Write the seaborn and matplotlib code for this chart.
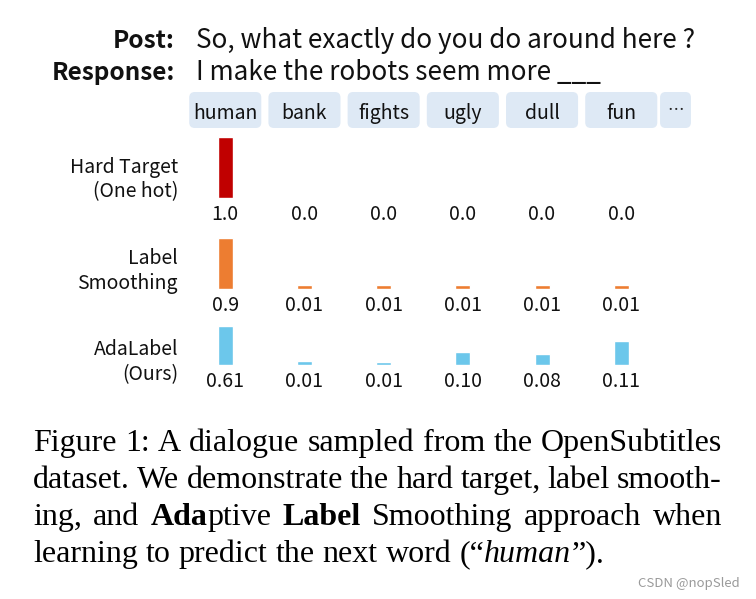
import numpy as np
import pandas as pd
import matplotlib
matplotlib.use("Agg")
import matplotlib.pyplot as plt
from matplotlib.patches import FancyBboxPatch
import seaborn as sns

# ---- data ----
tokens = ["human", "bank", "fights", "ugly", "dull", "fun"]
more_token = "…"

post_text = "So, what exactly do you do around here ?"
response_text = "I make the robots seem more ___"

row_names = [["Hard Target", "(One hot)"],
             ["Label", "Smoothing"],
             ["AdaLabel", "(Ours)"]]

hard_labels = ["1.0", "0.0", "0.0", "0.0", "0.0", "0.0"]
smooth_labels = ["0.9", "0.01", "0.01", "0.01", "0.01", "0.01"]
ada_labels = ["0.61", "0.01", "0.01", "0.10", "0.08", "0.11"]

# bar lengths as drawn in the figure (hard target bar = 1)
hard_heights = [1.0, 0.0, 0.0, 0.0, 0.0, 0.0]
smooth_heights = [0.84, 0.06, 0.06, 0.06, 0.06, 0.06]
ada_heights = [0.64, 0.066, 0.055, 0.21, 0.18, 0.39]

row_colors = ["#C00000", "#ED7D31", "#6CC7EB"]

caption_lines = [
    [[("Figure", "normal", "normal")], [("1:", "normal", "normal")], [("A", "normal", "normal")],
     [("dialogue", "normal", "normal")], [("sampled", "normal", "normal")], [("from", "normal", "normal")],
     [("the", "normal", "normal")], [("OpenSubtitles", "normal", "normal")]],
    [[("dataset.", "normal", "normal")], [("We", "normal", "normal")], [("demonstrate", "normal", "normal")],
     [("the", "normal", "normal")], [("hard", "normal", "normal")], [("target,", "normal", "normal")],
     [("label", "normal", "normal")], [("smooth-", "normal", "normal")]],
    [[("ing,", "normal", "normal")], [("and", "normal", "normal")],
     [("Ada", "bold", "normal"), ("ptive", "normal", "normal")], [("Label", "bold", "normal")],
     [("Smoothing", "normal", "normal")], [("approach", "normal", "normal")], [("when", "normal", "normal")]],
    [[("learning", "normal", "normal")], [("to", "normal", "normal")], [("predict", "normal", "normal")],
     [("the", "normal", "normal")], [("next", "normal", "normal")], [("word", "normal", "normal")],
     [("(“", "normal", "normal"), ("human", "normal", "italic"), ("”).", "normal", "normal")]],
]
watermark = "CSDN @nopSled"

# ---- layout ----
W, H = 756, 599
sans = ["Noto Sans CJK SC", "DejaVu Sans"]
serif = ["Liberation Serif", "DejaVu Serif"]

sns.set_theme(style="white")
plt.rcParams["font.family"] = sans

fig = plt.figure(figsize=(W / 100, H / 100), dpi=100)
fig.patch.set_facecolor("white")


def px_axes(left, baseline, width, height):
    return fig.add_axes([left / W, 1 - baseline / H, width / W, height / H])


def ftext(x, y, s, **kw):
    return fig.text(x / W, 1 - y / H, s, va="baseline", **kw)


unit = 61.0          # pixels for bar length 1
step = 79.2          # pixels between token columns
ax_left = 225.25 - step / 2
ax_width = step * 6
baselines = [198, 289, 365]
all_heights = [hard_heights, smooth_heights, ada_heights]
all_labels = [hard_labels, smooth_labels, ada_labels]

axes = []
for r in range(3):
    ax = px_axes(ax_left, baselines[r], ax_width, unit)
    df = pd.DataFrame({"token": tokens, "p": all_heights[r]})
    sns.barplot(data=df, x="token", y="p", color=row_colors[r], saturation=1,
                width=0.19, ax=ax, errorbar=None)
    ax.set_xlim(-0.5, 5.5)
    ax.set_ylim(0, 1)
    ax.axis("off")
    for i, lab in enumerate(all_labels[r]):
        ax.text(i, -22 / unit, lab, ha="center", va="baseline", fontsize=14,
                color="#111111", clip_on=False)
    axes.append(ax)

# token boxes above the first row
top = axes[0]
box_h = 36 / unit
box_y = (198 - 128) / unit
aspect = step / unit
for i, tok in enumerate(tokens):
    top.add_patch(FancyBboxPatch((i - 0.455, box_y), 0.91, box_h,
                                 boxstyle="round,pad=0,rounding_size=0.07",
                                 mutation_aspect=aspect, fc="#DEE9F5", ec="none",
                                 clip_on=False))
    top.text(i, (198 - 119) / unit, tok, ha="center", va="baseline", fontsize=14,
             color="#111111", clip_on=False)
xm = 5.685
top.add_patch(FancyBboxPatch((xm - 0.195, box_y), 0.39, box_h,
                             boxstyle="round,pad=0,rounding_size=0.07",
                             mutation_aspect=aspect, fc="#DEE9F5", ec="none",
                             clip_on=False))
top.text(xm, (198 - 110) / unit, more_token, ha="center", va="center", fontsize=12,
         color="#222222", clip_on=False)

# header
ftext(175, 48, "Post:", ha="right", fontsize=17.5, fontweight="bold", color="#111111")
ftext(175, 80, "Response:", ha="right", fontsize=17.5, fontweight="bold", color="#111111")
ftext(196, 48, post_text, ha="left", fontsize=18.8, color="#111111")
ftext(196, 80, response_text, ha="left", fontsize=18.8, color="#111111")

# row names
name_baselines = [(173, 197), (264, 289), (355, 380)]
for names, ys in zip(row_names, name_baselines):
    for s, y in zip(names, ys):
        ftext(178, y, s, ha="right", fontsize=14, color="#111111")

# caption, justified between x0 and x1
renderer = fig.canvas.get_renderer()
cap_size = 23
x0, x1 = 33, 722
cap_baselines = [451, 488, 525, 562]
for li, (words, yb) in enumerate(zip(caption_lines, cap_baselines)):
    placed = []
    for word in words:
        parts = []
        wsum = 0
        for txt, weight, style in word:
            t = ftext(0, yb, txt, ha="left", fontsize=cap_size, family=serif,
                      fontweight=weight, fontstyle=style, color="black")
            w = t.get_window_extent(renderer).width
            parts.append((t, w))
            wsum += w
        placed.append((parts, wsum))
    total = sum(p[1] for p in placed)
    if li < len(caption_lines) - 1:
        gap = (x1 - x0 - total) / (len(placed) - 1)
    else:
        gap = cap_size * 100 / 72 * 0.25
    x = x0
    for parts, wsum in placed:
        for t, w in parts:
            t.set_x(x / W)
            x += w
        x += gap

ftext(740, 587, watermark, ha="right", fontsize=9.5, color="#9a9a9a")

fig.savefig("out.png", dpi=100, facecolor="white")
